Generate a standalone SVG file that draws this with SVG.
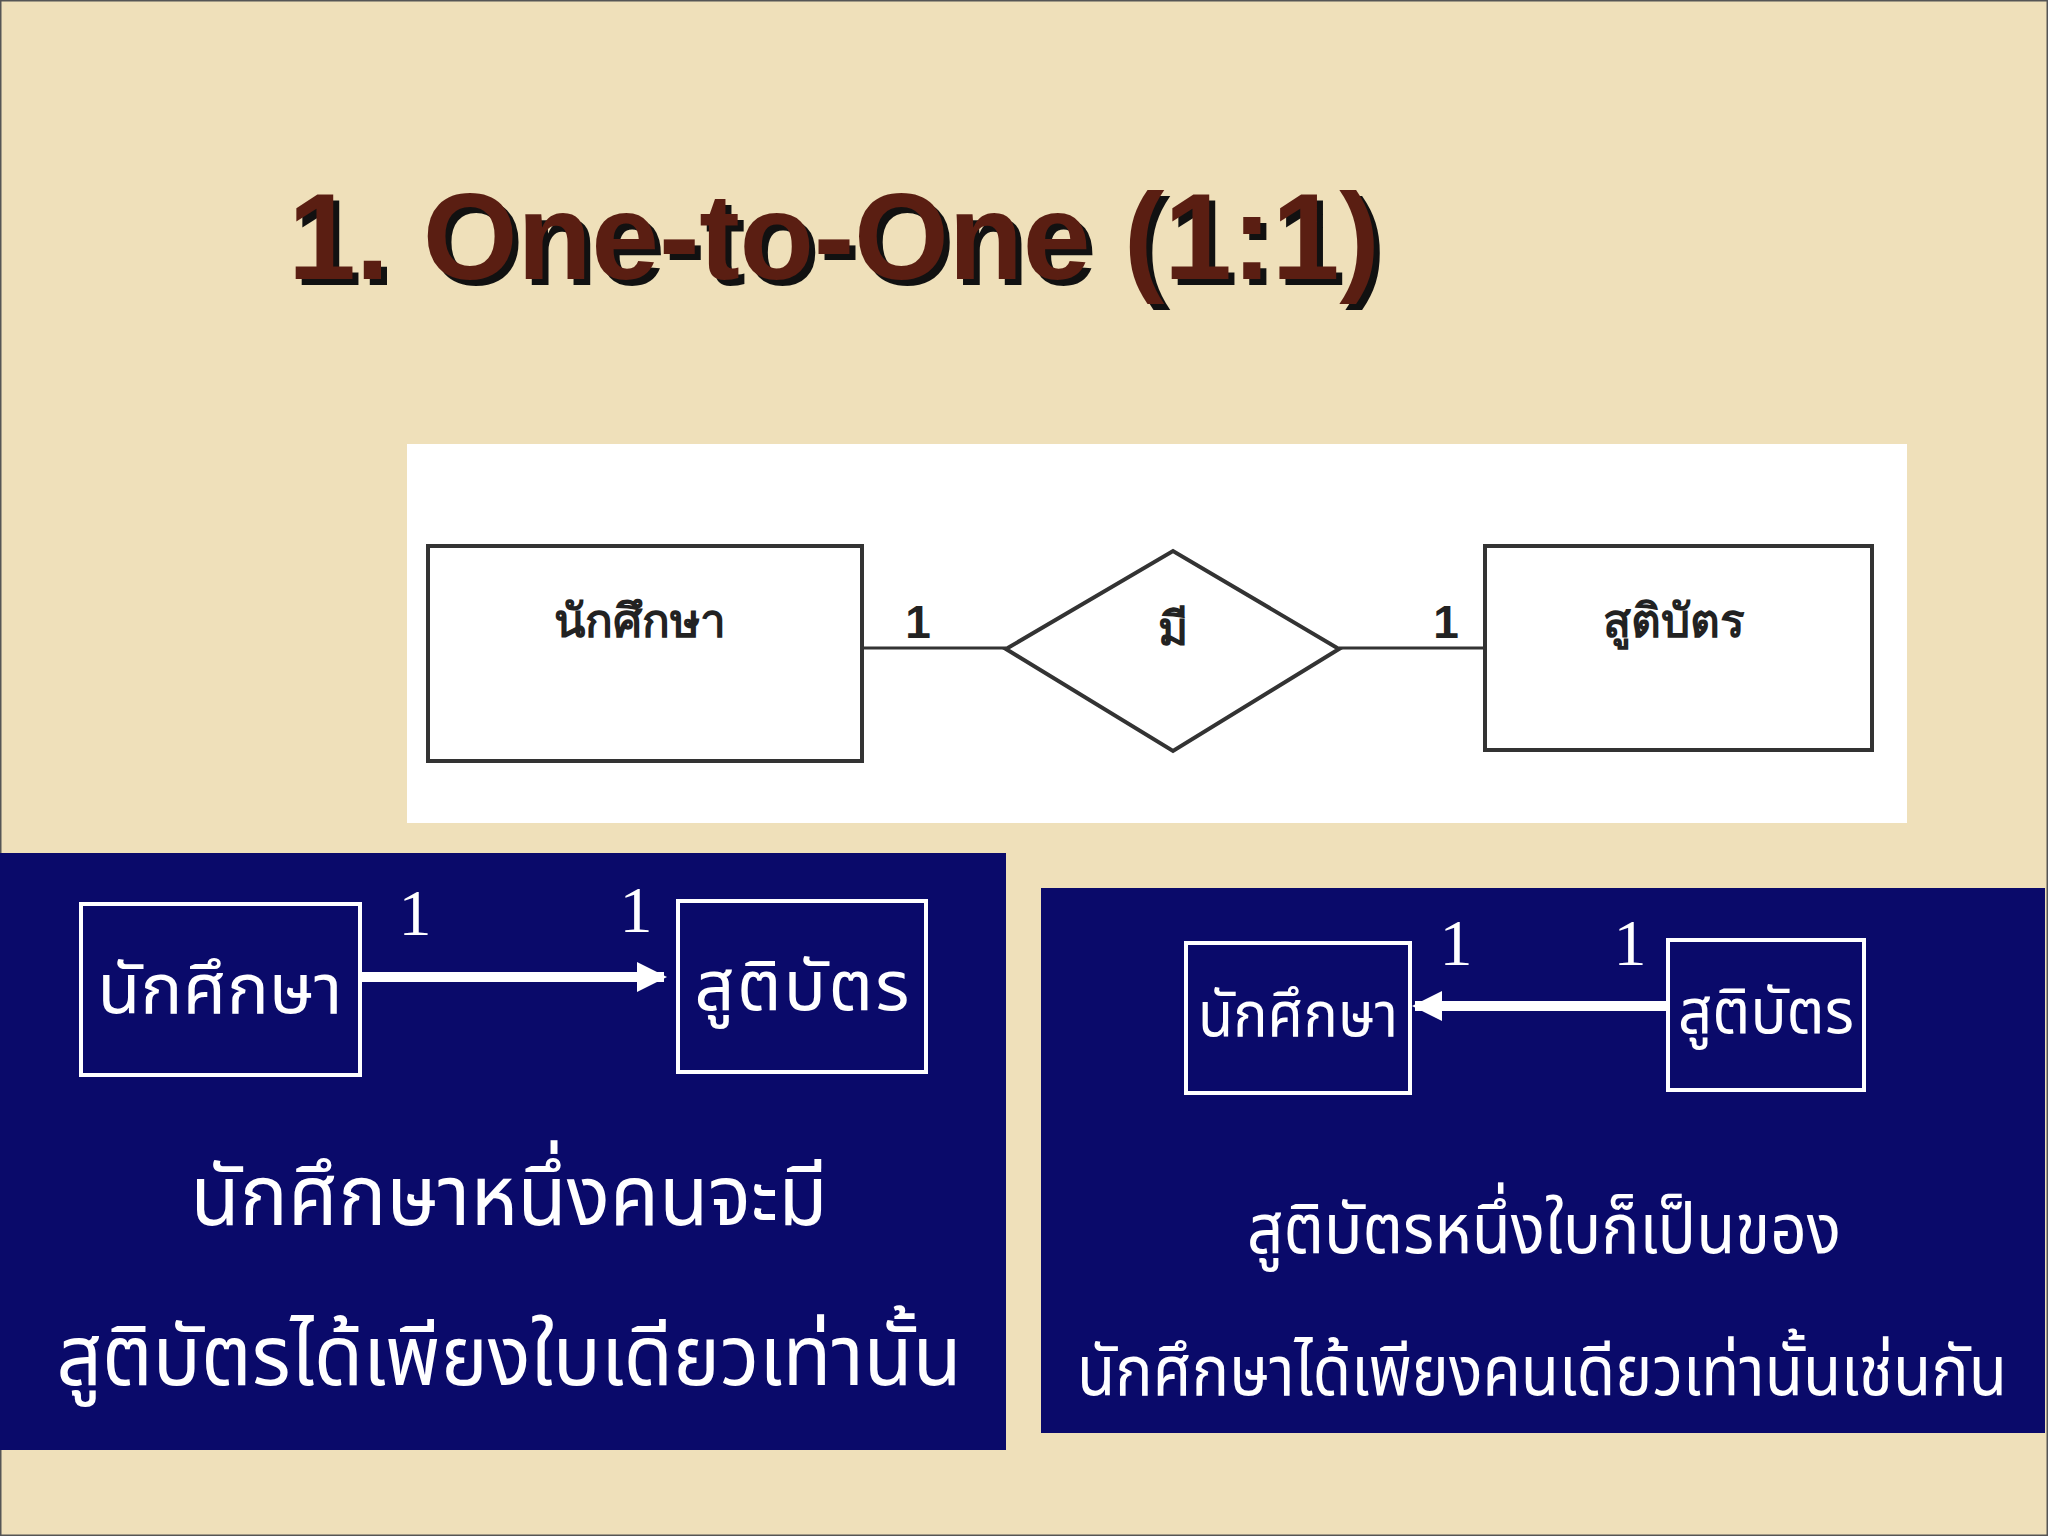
<svg xmlns="http://www.w3.org/2000/svg" width="2048" height="1536" viewBox="0 0 2048 1536">
<defs>
<style>
.th{font-family:"Noto Sans Thai","Noto Sans","DejaVu Sans",sans-serif;}
.er{fill:none;stroke:#333;stroke-width:4}
.erl{stroke:#333;stroke-width:3}
.ert{font-family:"Liberation Sans",sans-serif;font-weight:bold;font-size:46px;fill:#222;text-anchor:middle}
.wr{fill:none;stroke:#fff;stroke-width:4}
.wt{fill:#fff;text-anchor:middle}
.num{font-family:"Liberation Serif",serif;font-size:66px;fill:#fff;text-anchor:middle}
</style>
<marker id="ah" viewBox="0 0 10 10" refX="9" refY="5" markerWidth="3" markerHeight="3.4" orient="auto"><path d="M0,0L10,5L0,10z" fill="#fff"/></marker>
</defs>
<rect x="0" y="0" width="2048" height="1536" fill="#EFE0BA" stroke="#555" stroke-width="3"/>
<g id="title">
<text x="294" y="285" font-family="Liberation Sans,sans-serif" font-weight="bold" font-size="122" fill="#111" textLength="1092">1. One-to-One (1:1)</text>
<text x="288" y="279" font-family="Liberation Sans,sans-serif" font-weight="bold" font-size="122" fill="#5A1E12" textLength="1092">1. One-to-One (1:1)</text>
</g>
<rect x="407" y="444" width="1500" height="379" fill="#fff"/>
<g id="er-student"><rect class="er" x="428" y="546" width="434" height="215"/><text class="ert th" x="640" y="637">นักศึกษา</text></g>
<g id="er-rel"><polygon class="er" points="1006,649 1173,551 1339,649 1173,751"/><text class="ert th" x="1173" y="645">มี</text></g>
<g id="er-cert"><rect class="er" x="1485" y="546" width="387" height="204"/><text class="ert th" x="1674" y="637">สูติบัตร</text></g>
<text class="ert" x="918" y="638">1</text>
<text class="ert" x="1446" y="638">1</text>
<g id="panel-left">
<rect x="0" y="853" width="1006" height="597" fill="#0A0A6A"/>
<rect class="wr" x="81" y="904" width="279" height="171"/>
<text class="wt th" x="220" y="1013" font-size="70" textLength="245">นักศึกษา</text>
<rect class="wr" x="678" y="901" width="248" height="171"/>
<text class="wt th" x="802" y="1010" font-size="70" textLength="215">สูติบัตร</text>
<text class="num" x="415" y="935">1</text>
<text class="num" x="636" y="932">1</text>
<text class="wt th" x="509" y="1225" font-size="84" textLength="637" lengthAdjust="spacingAndGlyphs">นักศึกษาหนึ่งคนจะมี</text>
<text class="wt th" x="509" y="1385" font-size="84" textLength="905" lengthAdjust="spacingAndGlyphs">สูติบัตรได้เพียงใบเดียวเท่านั้น</text>
</g>
<g id="panel-right">
<rect x="1041" y="888" width="1004" height="545" fill="#0A0A6A"/>
<rect class="wr" x="1186" y="943" width="224" height="150"/>
<text class="wt th" x="1298" y="1036" font-size="62" textLength="200" lengthAdjust="spacingAndGlyphs">นักศึกษา</text>
<rect class="wr" x="1668" y="940" width="196" height="150"/>
<text class="wt th" x="1766" y="1033" font-size="62" textLength="176" lengthAdjust="spacingAndGlyphs">สูติบัตร</text>
<text class="num" x="1456" y="965" font-size="58">1</text>
<text class="num" x="1630" y="965" font-size="58">1</text>
<text class="wt th" x="1544" y="1253" font-size="70" textLength="594" lengthAdjust="spacingAndGlyphs">สูติบัตรหนึ่งใบก็เป็นของ</text>
<text class="wt th" x="1542" y="1395" font-size="70" textLength="930" lengthAdjust="spacingAndGlyphs">นักศึกษาได้เพียงคนเดียวเท่านั้นเช่นกัน</text>
</g>
<g id="connectors">
<line class="erl" x1="862" y1="648" x2="1006" y2="648"/>
<line class="erl" x1="1339" y1="648" x2="1485" y2="648"/>
<line x1="360" y1="977" x2="664" y2="977" stroke="#fff" stroke-width="10" marker-end="url(#ah)"/>
<line x1="1666" y1="1006" x2="1415" y2="1006" stroke="#fff" stroke-width="10" marker-end="url(#ah)"/>
</g>
</svg>
